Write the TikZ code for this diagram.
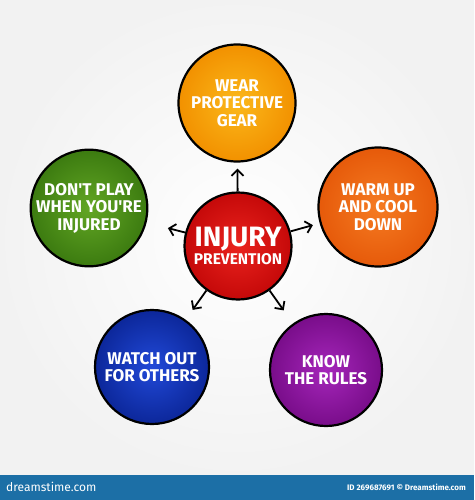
\documentclass[tikz,border=0pt]{standalone}
\usepackage{fontspec}
\newfontfamily\bubblefont{Fira Sans}
\usetikzlibrary{
    arrows.meta,
    positioning,
    calc,
}
\definecolor{wearin}{HTML}{FBB81A}
\definecolor{wearout}{HTML}{F29100}
\definecolor{warmin}{HTML}{F57B22}
\definecolor{warmout}{HTML}{E65A0A}
\definecolor{dontin}{HTML}{62A624}
\definecolor{dontout}{HTML}{3C7B10}
\definecolor{watchin}{HTML}{2149D8}
\definecolor{watchout}{HTML}{0C279A}
\definecolor{knowin}{HTML}{A526BA}
\definecolor{knowout}{HTML}{790D8A}
\definecolor{injin}{HTML}{EA231E}
\definecolor{injout}{HTML}{C50909}
\definecolor{barblue}{HTML}{1C6FA6}

\begin{document}
\begin{tikzpicture}[
    x=1pt, y=-1pt,
    bubble/.style={circle, draw=black, line width=2.2pt, shading=radial,
    inner sep=0pt, text=white, align=center,
    font=\bubblefont\bfseries\fontsize{17}{17.5}\selectfont},
    spoke/.style={-{Straight Barb[length=6pt,width=12pt,line width=1.8pt]},
    line width=1.8pt, black},
    bartext/.style={text=white, inner sep=0pt},
]

% BACKGROUND
\shade[inner color=white, outer color=gray!10] (0,0) rectangle (474,475);
\fill[barblue] (0,475) rectangle (474,500);
\useasboundingbox (0,0) rectangle (474,500);

% CENTER
\node[bubble, inner color=injin, outer color=injout, minimum size=107pt]
    at (238,246) (injury)
    {{\fontsize{28}{28}\selectfont INJURY}\\[1pt]
    {\fontsize{15.5}{15.5}\selectfont PREVENTION}};

% OUTER CIRCLES
\node[bubble, inner color=wearin, outer color=wearout, minimum size=117pt]
    at (237,103) (wear) {WEAR\\PROTECTIVE\\GEAR};
\node[bubble, inner color=warmin, outer color=warmout, minimum size=119pt]
    at (378,207) (warm) {WARM UP\\AND COOL\\DOWN};
\node[bubble, inner color=dontin, outer color=dontout, minimum size=107pt]
    at (89,208) (dont) {DON'T PLAY\\WHEN YOU'RE\\INJURED};
\node[bubble, inner color=watchin, outer color=watchout, minimum size=114pt]
    at (152,367) (watch) {WATCH OUT\\FOR OTHERS};
\node[bubble, inner color=knowin, outer color=knowout, minimum size=112pt]
    at (326,370) (know) {KNOW\\THE RULES};

% ARROWS
\draw[spoke, shorten >=6pt] (injury) -- (wear);
\draw[spoke, shorten >=7pt] (injury) -- (warm);
\draw[spoke, shorten >=22pt] (injury) -- (dont);
\draw[spoke, shorten >=12pt] (injury) -- (watch);
\draw[spoke, shorten >=16pt] (injury) -- (know);

% BAR TEXT
\node[bartext, anchor=west, font=\bubblefont\fontsize{12}{12}\selectfont]
    at (6,487) (site) {dreamstime.com};
\node[bartext, anchor=east, font=\bubblefont\bfseries\fontsize{8}{8}\selectfont]
    at (466,487) (imgid) {ID 269687691 \textcopyright{} Dreamstime.com};

\end{tikzpicture}
\end{document}
